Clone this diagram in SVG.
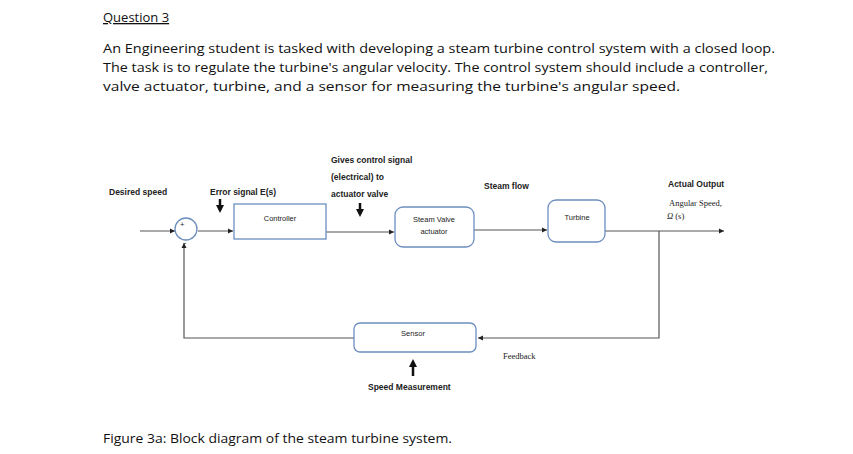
<svg xmlns="http://www.w3.org/2000/svg" width="853" height="454" viewBox="0 0 853 454">
<defs>
<marker id="ah" markerWidth="6" markerHeight="6" refX="5" refY="3" orient="auto" markerUnits="userSpaceOnUse"><path d="M0,0.5 L5,3 L0,5.5 z" fill="#222"/></marker>
<marker id="th" markerWidth="10" markerHeight="8" refX="5" refY="4" orient="auto" markerUnits="userSpaceOnUse"><path d="M0,0 L8,4 L0,8 z" fill="#111"/></marker>
</defs>
<style>
.p{font-family:"Open Sans","Liberation Sans",sans-serif;font-size:13px;fill:#111}
.b{font-family:"Liberation Sans",Arial,sans-serif;font-size:8.5px;font-weight:bold;fill:#222}
.s{font-family:"Liberation Sans",Arial,sans-serif;font-size:7.5px;fill:#222}
.r{font-family:"Liberation Serif",serif;font-size:8.5px;fill:#222}
.box{fill:#fff;stroke:#6c8ebf;stroke-width:1.3}
.ln{fill:none;stroke:#555;stroke-width:1.2}
.tk{stroke:#111;stroke-width:2.5}
</style>
<rect width="853" height="454" fill="#fff"/>
<text class="p" x="103" y="22" font-size="13.5" text-decoration="underline">Question 3</text>
<text class="p" x="103" y="53" textLength="672" lengthAdjust="spacingAndGlyphs">An Engineering student is tasked with developing a steam turbine control system with a closed loop.</text>
<text class="p" x="103" y="72" textLength="665" lengthAdjust="spacingAndGlyphs">The task is to regulate the turbine's angular velocity. The control system should include a controller,</text>
<text class="p" x="103" y="91" textLength="577" lengthAdjust="spacingAndGlyphs">valve actuator, turbine, and a sensor for measuring the turbine's angular speed.</text>
<text class="p" x="103" y="443" textLength="349" lengthAdjust="spacingAndGlyphs">Figure 3a: Block diagram of the steam turbine system.</text>

<g id="connectors">
<line class="ln" x1="140" y1="231" x2="175" y2="231" marker-end="url(#ah)"/>
<line class="ln" x1="198" y1="231" x2="233" y2="231" marker-end="url(#ah)"/>
<line class="ln" x1="326" y1="232" x2="394" y2="232" marker-end="url(#ah)"/>
<line class="ln" x1="474" y1="230" x2="547" y2="230" marker-end="url(#ah)"/>
<line class="ln" x1="605" y1="231" x2="724" y2="231" marker-end="url(#ah)"/>
<polyline class="ln" points="659,231 659,338 478,338" marker-end="url(#ah)"/>
<polyline class="ln" points="363,338 184,338 184,243" marker-end="url(#ah)"/>
<line class="tk" x1="220" y1="199" x2="220" y2="210" marker-end="url(#th)"/>
<line class="tk" x1="360" y1="203" x2="360" y2="214" marker-end="url(#th)"/>
<line class="tk" x1="413" y1="376" x2="413" y2="362" marker-end="url(#th)"/>
</g>

<g id="sum"><circle cx="186" cy="229" r="11" fill="#fff" stroke="#6c8ebf" stroke-width="1.3"/>
<text class="s" x="180" y="227" font-size="6">+</text><text class="s" x="184" y="245" font-size="6">-</text></g>
<g id="controller"><rect class="box" x="234" y="204" width="92" height="35"/><text class="s" x="280" y="221" text-anchor="middle">Controller</text></g>
<g id="valve"><rect class="box" x="395" y="207" width="79" height="40" rx="8"/><text class="s" x="434" y="222" text-anchor="middle">Steam Valve</text><text class="s" x="434" y="234" text-anchor="middle">actuator</text></g>
<g id="turbine"><rect class="box" x="548" y="200" width="57" height="42" rx="8"/><text class="s" x="577" y="220" text-anchor="middle">Turbine</text></g>
<g id="sensor"><rect class="box" x="354" y="323" width="122" height="29" rx="6"/><text class="s" x="413" y="336" text-anchor="middle">Sensor</text></g>

<text class="b" x="109" y="195">Desired speed</text>
<text class="b" x="210" y="195">Error signal E(s)</text>
<text class="b" x="331" y="163">Gives control signal</text>
<text class="b" x="331" y="180">(electrical) to</text>
<text class="b" x="331" y="197">actuator valve</text>
<text class="b" x="484" y="189">Steam flow</text>
<text class="b" x="668" y="187">Actual Output</text>
<text class="r" x="669" y="206">Angular Speed,</text>
<text class="r" x="667" y="219" font-style="italic">Ω <tspan font-style="normal">(s)</tspan></text>
<text class="r" x="503" y="359">Feedback</text>
<text class="b" x="368" y="390">Speed Measurement</text>
</svg>
